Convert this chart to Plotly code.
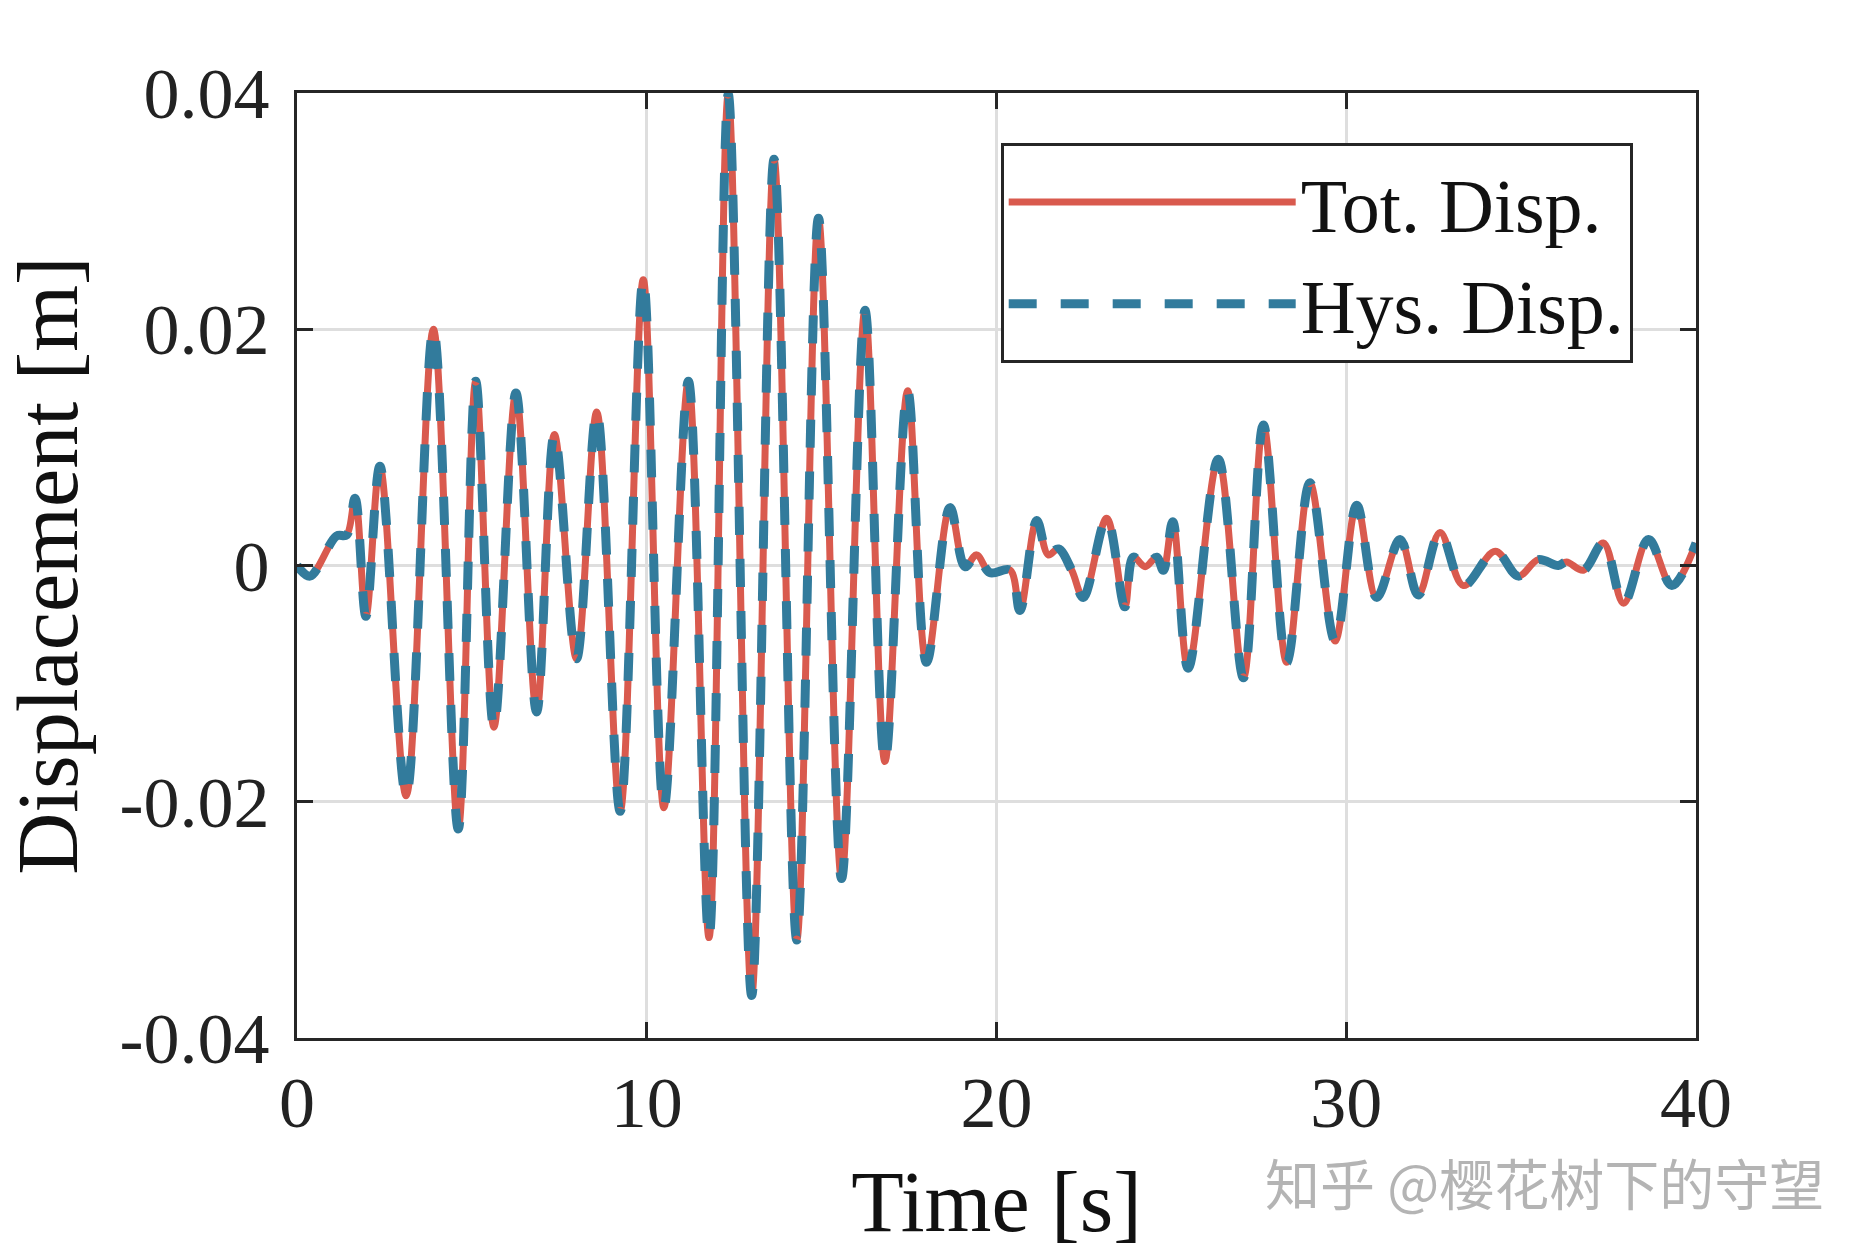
import plotly.graph_objects as go

# Time [s] and displacement [m] read at turning points of the record
time_s = [0.0, 0.37, 1.13, 1.42, 1.66, 1.97, 2.37, 3.12, 3.90, 4.61, 5.11, 5.63, 6.26, 6.85,
          7.36, 7.99, 8.57, 9.24, 9.90, 10.49, 11.19, 11.78, 12.33, 13.00, 13.64, 14.29,
          14.91, 15.57, 16.24, 16.81, 17.46, 18.00, 18.67, 19.10, 19.43, 19.81, 20.39,
          20.67, 21.15, 21.48, 21.77, 22.15, 22.48, 23.15, 23.67, 23.91, 24.25, 24.58,
          24.77, 25.04, 25.48, 26.34, 27.06, 27.63, 28.30, 28.96, 29.68, 30.30, 30.87,
          31.54, 32.06, 32.68, 33.35, 34.26, 34.92, 35.49, 36.06, 36.30, 36.78, 37.35,
          37.93, 38.64, 39.31, 40.0]
tot_disp = [0.0, -0.0009, 0.0025, 0.0026, 0.0057, -0.0043, 0.0084, -0.0195, 0.0200, -0.0223,
            0.0156, -0.0137, 0.0146, -0.0124, 0.0111, -0.0079, 0.0130, -0.0208, 0.0242,
            -0.0205, 0.0156, -0.0315, 0.0399, -0.0364, 0.0344, -0.0317, 0.0294, -0.0265,
            0.0216, -0.0166, 0.0148, -0.0082, 0.0049, -0.0001, 0.0009, -0.0006, -0.0004,
            -0.0038, 0.0038, 0.0009, 0.0014, -0.0004, -0.0027, 0.0040, -0.0035, 0.0007,
            -0.0001, 0.0007, -0.0004, 0.0037, -0.0087, 0.0090, -0.0095, 0.0119, -0.0082,
            0.0070, -0.0064, 0.0051, -0.0027, 0.0022, -0.0025, 0.0028, -0.0017, 0.0012,
            -0.0009, 0.0005, 0.0000, 0.0003, -0.0004, 0.0019, -0.0032, 0.0022, -0.0017,
            0.0019]
hys_disp = list(tot_disp)

x_ticks = [0, 10, 20, 30, 40]
y_ticks = [-0.04, -0.02, 0, 0.02, 0.04]
y_tick_text = ["-0.04", "-0.02", "0", "0.02", "0.04"]
series_names = ["Tot. Disp.", "Hys. Disp."]

RED = "#D95A4E"
BLUE = "#327B9C"
SERIF = "Liberation Serif, Times New Roman, serif"

fig = go.Figure()
fig.add_trace(go.Scatter(x=time_s, y=tot_disp, mode="lines", name=series_names[0],
                         line=dict(color=RED, width=7, shape="spline", smoothing=1.0)))
fig.add_trace(go.Scatter(x=time_s, y=hys_disp, mode="lines", name=series_names[1],
                         line=dict(color=BLUE, width=9, dash="28px,24px", shape="spline",
                                   smoothing=1.0)))

axis_common = dict(showline=True, linecolor="#262626", linewidth=3, mirror="ticks",
                   ticks="inside", ticklen=16, tickwidth=3, tickcolor="#262626",
                   showgrid=True, gridcolor="#DEDEDE", gridwidth=2.5, zeroline=False,
                   tickfont=dict(family=SERIF, size=72, color="#222222"))

fig.update_xaxes(range=[0, 40], tickvals=x_ticks, ticklabelstandoff=0,
                 title=dict(text="Time [s]", font=dict(family=SERIF, size=86, color="#111111"),
                            standoff=30), **axis_common)
fig.update_yaxes(range=[-0.04, 0.04], tickvals=y_ticks, ticktext=y_tick_text,
                 ticklabelstandoff=10,
                 title=dict(text="Displacement [m]", font=dict(family=SERIF, size=86, color="#111111"),
                            standoff=18), **axis_common)

fig.update_layout(
    width=1875, height=1250,
    margin=dict(l=297, r=179, t=93, b=212),
    paper_bgcolor="white", plot_bgcolor="white",
    showlegend=True,
    legend=dict(x=0.503, y=0.947, xanchor="left", yanchor="top",
                bgcolor="white", bordercolor="#262626", borderwidth=3,
                font=dict(family=SERIF, size=76, color="#111111"),
                itemwidth=287, tracegroupgap=0),
)

fig.add_annotation(text="知乎 @樱花树下的守望", xref="paper", yref="paper",
                   x=1.0 + (1826 - 1696) / 1399, y=-(1181 - 1038) / 945,
                   xanchor="right", yanchor="middle", showarrow=False,
                   font=dict(family="Noto Sans CJK SC", size=55, color="#B4B4B4"))

fig.write_html("out.html")
